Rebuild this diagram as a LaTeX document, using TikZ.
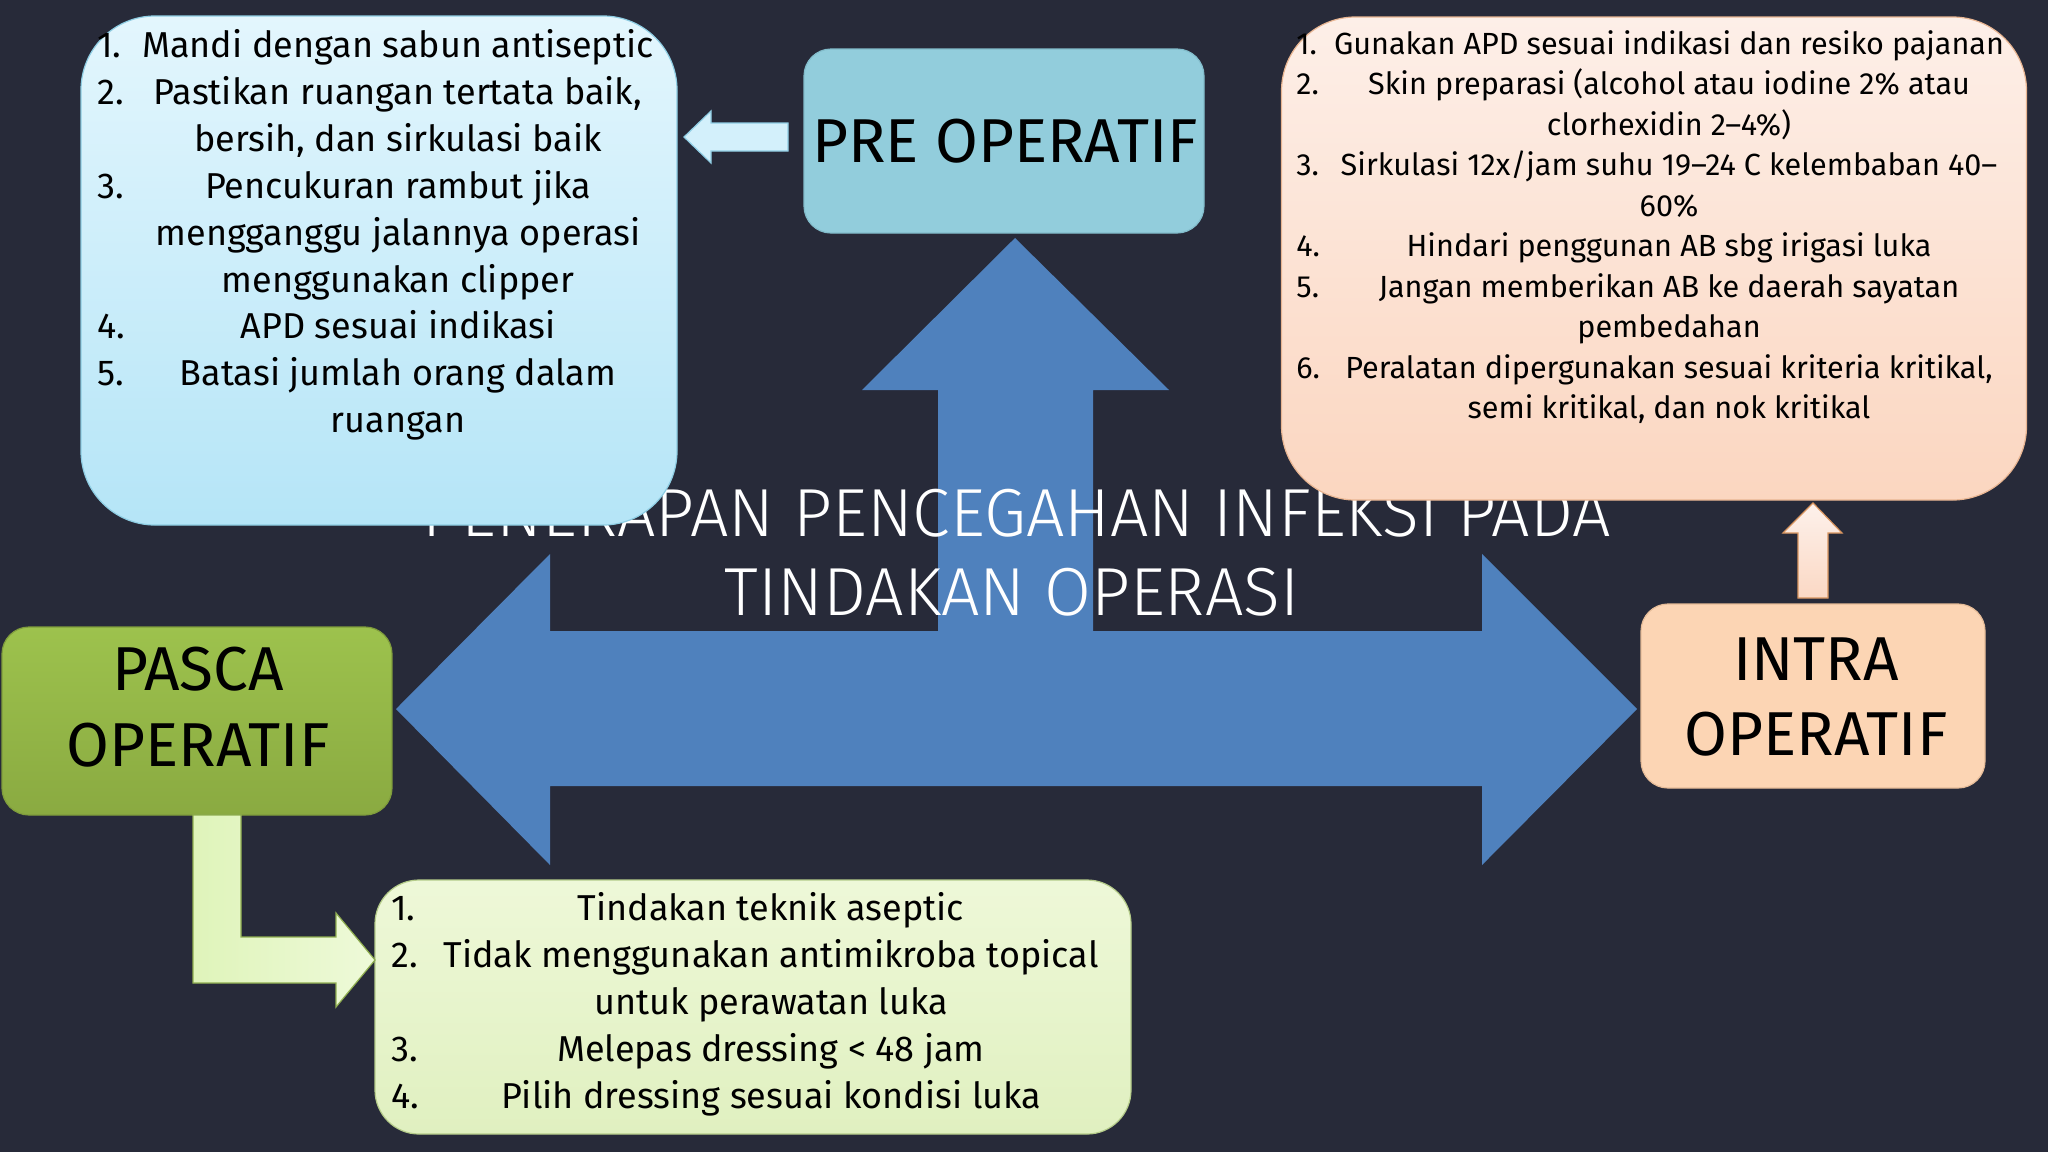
\documentclass[tikz,border=0pt]{standalone}
\usepackage{fontspec}
\setmainfont{Fira Sans}
\newfontfamily\lightfont{Fira Sans Light}
\usetikzlibrary{calc}
\definecolor{bg}{HTML}{272A39}
\definecolor{bluearrow}{HTML}{4F81BD}
\definecolor{tlTop}{HTML}{E3F6FD}
\definecolor{tlBot}{HTML}{B5E5F7}
\definecolor{tlLine}{HTML}{8ECDE3}
\definecolor{preFill}{HTML}{92CDDC}
\definecolor{preLine}{HTML}{82BCCB}
\definecolor{peTop}{HTML}{FDEFE8}
\definecolor{peBot}{HTML}{FBD6C0}
\definecolor{peLine}{HTML}{E8B592}
\definecolor{intraFill}{HTML}{FCD5B4}
\definecolor{intraLine}{HTML}{E6BC98}
\definecolor{paTop}{HTML}{9DC24D}
\definecolor{paBot}{HTML}{8AAA41}
\definecolor{paLine}{HTML}{7F9C3C}
\definecolor{boTop}{HTML}{EEF8D8}
\definecolor{boBot}{HTML}{E0F0C0}
\definecolor{boLine}{HTML}{B5CC8A}
\definecolor{beLeft}{HTML}{DFF4BA}
\definecolor{beRight}{HTML}{EEFAD9}
\definecolor{beLine}{HTML}{8FAE50}
\definecolor{laFill}{HTML}{D3F0FB}
\definecolor{laLine}{HTML}{8FCDE4}
\definecolor{uaTop}{HTML}{FDF1EB}
\definecolor{uaBot}{HTML}{FBD8C4}
\definecolor{uaLine}{HTML}{D9955F}
\tikzset{
  box/.style={draw, line width=0.6pt, inner sep=0pt},
  lbl/.style={font=\fontsize{31}{37}\selectfont, text=black, anchor=base, inner sep=0pt},
  titletext/.style={font=\lightfont\fontsize{34}{40}\selectfont, text=white, anchor=base, inner sep=0pt},
  body/.style={font=\fontsize{18}{22}\selectfont, text=black, anchor=base, inner sep=0pt},
  pbody/.style={font=\fontsize{15.3}{18}\selectfont, text=black, anchor=base, inner sep=0pt},
  numw/.style={anchor=base west, inner sep=0pt},
}
\begin{document}
\begin{tikzpicture}[x=0.5pt,y=-0.5pt]
\useasboundingbox (0,0) rectangle (2048,1152);
\fill[bg] (0,0) rectangle (2048,1152);
% big three-way arrow
\fill[bluearrow] (396,709) -- (550,554) -- (550,631) -- (938,631) -- (938,390) -- (862,390)
  -- (1015,238) -- (1169,390) -- (1093,390) -- (1093,631) -- (1482,631) -- (1482,554)
  -- (1637,709) -- (1482,865) -- (1482,786) -- (550,786) -- (550,865) -- cycle;
% title
\node[titletext] (title1) at (1017,536) {PENERAPAN PENCEGAHAN INFEKSI PADA};
\node[titletext] (title2) at (1012,615) {TINDAKAN OPERASI};
% boxes
\node[box, minimum width=298pt, minimum height=254.5pt, rounded corners=37pt,
  top color=tlTop, bottom color=tlBot, draw=tlLine] (tlbox) at (379,270.5) {};
\node[box, minimum width=200pt, minimum height=92pt, rounded corners=13.5pt,
  fill=preFill, draw=preLine] (pre) at (1004,141) {};
\node[box, minimum width=372.5pt, minimum height=241.5pt, rounded corners=37pt,
  top color=peTop, bottom color=peBot, draw=peLine] (pebox) at (1654,258.5) {};
\node[box, minimum width=172pt, minimum height=92pt, rounded corners=13.5pt,
  fill=intraFill, draw=intraLine] (intra) at (1813,696) {};
\node[box, minimum width=195pt, minimum height=94pt, rounded corners=13.5pt,
  top color=paTop, bottom color=paBot, draw=paLine] (pasca) at (197,721) {};
\node[box, minimum width=378pt, minimum height=127pt, rounded corners=22pt,
  top color=boTop, bottom color=boBot, draw=boLine] (bobox) at (753,1007) {};
% small block arrows
\path[draw=laLine, line width=0.6pt, fill=laFill] (684,137) -- (711,111) -- (711,123) -- (788,123)
  -- (788,151) -- (711,151) -- (711,163) -- cycle;
\path[draw=uaLine, line width=0.6pt, top color=uaTop, bottom color=uaBot] (1813,503) -- (1842,533)
  -- (1828,533) -- (1828,598) -- (1798,598) -- (1798,533) -- (1783,533) -- cycle;
\path[draw=beLine, line width=0.6pt, left color=beLeft, right color=beRight] (193,815) -- (241,815)
  -- (241,937) -- (336,937) -- (336,913) -- (375,960) -- (336,1007) -- (336,983) -- (193,983) -- cycle;
% labels
\node[lbl] (preText) at (1005,162) {PRE OPERATIF};
\node[lbl] (intraA) at (1816,680) {INTRA};
\node[lbl] (intraB) at (1816,755) {OPERATIF};
\node[lbl] (pascaA) at (198,690) {PASCA};
\node[lbl] (pascaB) at (198,766) {OPERATIF};
% top-left list
\foreach \yy/\tt [count=\i] in {57/{Mandi dengan sabun antiseptic}, 104/{Pastikan ruangan tertata baik,},
  151/{bersih, dan sirkulasi baik}, 198/{Pencukuran rambut jika}, 245/{mengganggu jalannya operasi},
  292/{menggunakan clipper}, 338/{APD sesuai indikasi}, 385/{Batasi jumlah orang dalam}, 432/{ruangan}}
  \node[body] (tl\i) at (398,\yy) {\tt};
\foreach \yy/\nn [count=\i] in {57/1., 104/2., 198/3., 338/4., 385/5.}
  \node[body, numw] (tln\i) at (97,\yy) {\nn};
% top-right list
\foreach \yy/\tt [count=\i] in {54/{Gunakan APD sesuai indikasi dan resiko pajanan},
  94.5/{Skin preparasi (alcohol atau iodine 2\% atau}, 135/{clorhexidin 2–4\%)},
  175.5/{Sirkulasi 12x/jam suhu 19–24 C kelembaban 40–}, 216/{60\%},
  256.5/{Hindari penggunan AB sbg irigasi luka}, 297/{Jangan memberikan AB ke daerah sayatan},
  337.5/{pembedahan}, 378/{Peralatan dipergunakan sesuai kriteria kritikal,},
  418.5/{semi kritikal, dan nok kritikal}}
  \node[pbody] (tr\i) at (1669,\yy) {\tt};
\foreach \yy/\nn [count=\i] in {54/1., 94.5/2., 175.5/3., 256.5/4., 297/5., 378/6.}
  \node[pbody, numw] (trn\i) at (1296,\yy) {\nn};
% bottom list
\foreach \yy/\tt [count=\i] in {920/{Tindakan teknik aseptic}, 967/{Tidak menggunakan antimikroba topical},
  1014/{untuk perawatan luka}, 1061/{Melepas dressing < 48 jam}, 1108/{Pilih dressing sesuai kondisi luka}}
  \node[body] (bo\i) at (771,\yy) {\tt};
\foreach \yy/\nn [count=\i] in {920/1., 967/2., 1061/3., 1108/4.}
  \node[body, numw] (bon\i) at (391,\yy) {\nn};
\end{tikzpicture}
\end{document}
